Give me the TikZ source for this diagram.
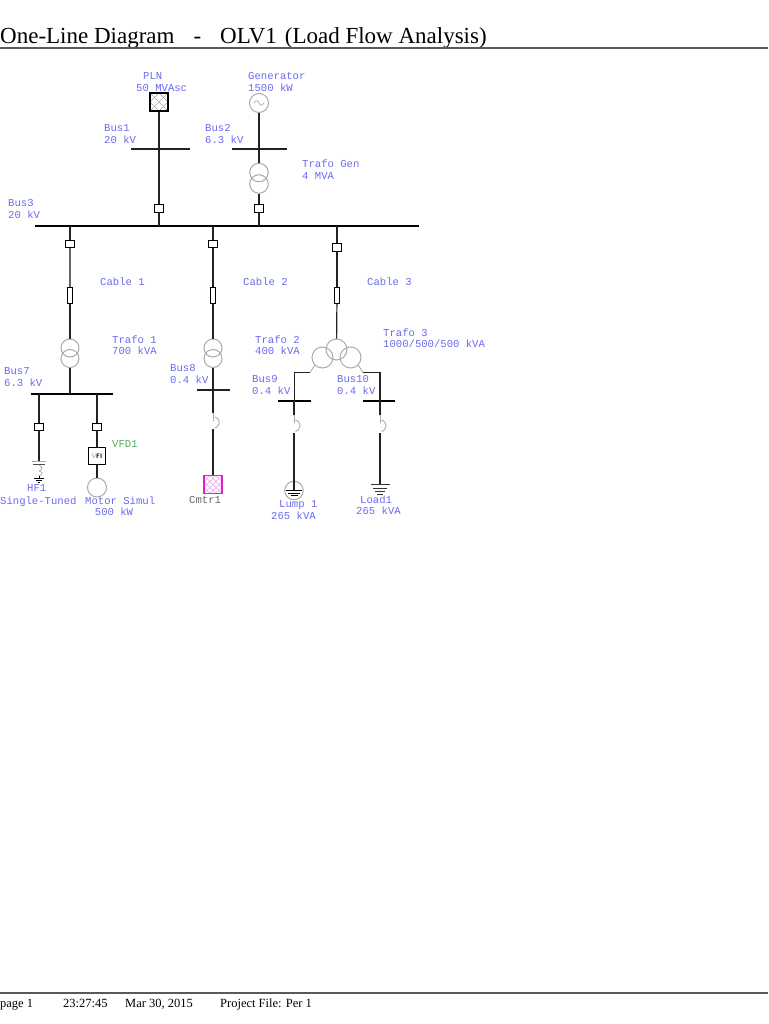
\documentclass[tikz,border=0pt]{standalone}
\usepackage{fontspec}
\setmainfont{Liberation Serif}
\setmonofont{Liberation Mono}
\definecolor{lblblue}{HTML}{6A6AEE}
\definecolor{lblgreen}{HTML}{55AA55}
\definecolor{lblgray}{HTML}{666666}
\definecolor{symgray}{HTML}{AAAAAA}
\definecolor{wire}{HTML}{222222}
\definecolor{pinkish}{HTML}{E020D0}
\tikzset{
  lbl/.style={anchor=north west,inner sep=0pt,yshift=-1.4pt,align=left,text=lblblue,font=\fontsize{10.6}{11.6}\selectfont\ttfamily},
  titletext/.style={anchor=base west,inner sep=0pt,text=black},
  foot/.style={anchor=base west,inner sep=0pt,text=black,font=\fontsize{12.5}{14}\selectfont},
  wirel/.style={draw=wire,line width=1.2pt},
  rule/.style={draw=black!65,line width=1.2pt},
  busthin/.style={draw=none,fill=wire,inner sep=0pt,minimum height=1.3pt},
  busthick/.style={draw=none,fill=black,inner sep=0pt,minimum height=2pt},
  breaker/.style={draw=black,fill=white,line width=0.9pt,inner sep=0pt,minimum width=9pt,minimum height=8pt},
  cablebox/.style={draw=black,fill=white,line width=0.9pt,inner sep=0pt,minimum width=5pt,minimum height=16pt},
  coil/.style={circle,draw=symgray,line width=1pt,inner sep=0pt},
  hatchbox/.style={draw=#1,inner sep=0pt,minimum size=18pt,line width=1.1pt},
  openlink/.style={draw=symgray,line width=0.9pt},
}
\begin{document}
\begin{tikzpicture}[x=1pt,y=-1pt]
\useasboundingbox (0,0) rectangle (768,1024);
% title and footer
\node[titletext,font=\fontsize{23}{26}\selectfont] (title) at (0,44) {One-Line Diagram\hspace{19pt}-\hspace{19pt}OLV1\hspace{8pt}(Load Flow Analysis)};
\coordinate (tl) at (0,48); \coordinate (tr) at (768,48);
\draw[rule] (tl) -- (tr);
\coordinate (fl) at (0,993); \coordinate (fr) at (768,993);
\draw[rule] (fl) -- (fr);
\node[foot] (f1) at (0,1007) {page 1};
\node[foot] (f2) at (63,1007) {23:27:45};
\node[foot] (f3) at (125,1007) {Mar 30, 2015};
\node[foot] (f4) at (220,1007) {Project File: Per 1};
% buses
\node[busthick,minimum width=384pt] (bus3) at (227,226.5) {};
\node[busthin,minimum width=59pt] (bus1) at (160.5,149) {};
\node[busthin,minimum width=55pt] (bus2) at (259.5,149) {};
\node[busthick,minimum width=82pt] (bus7) at (72,394) {};
\node[busthin,minimum width=33pt] (bus8) at (213,390) {};
\node[busthick,minimum width=33pt] (bus9) at (294.5,401) {};
\node[busthick,minimum width=32pt] (bus10) at (379,401) {};
% PLN feeder
\node[hatchbox=black,
  path picture={\foreach \d in {-9,0,9}{
    \draw[symgray,line width=0.7pt] ([shift={(\d-12,-12)}]path picture bounding box.center) -- ++(24,24);
    \draw[symgray,line width=0.7pt] ([shift={(\d+12,-12)}]path picture bounding box.center) -- ++(-24,24);}}
  ] (pln) at (159,102) {};
\node[breaker] (bk1) at (159,208) {};
\draw[wirel] (pln) -- (bk1);
\draw[wirel] (bk1) -- (bk1 |- bus3);
% Generator feeder
\node[coil,minimum size=19pt] (gen) at (259,103) {};
\draw[symgray,line width=0.7pt] (254,103) .. controls (256,100) and (258,100) .. (259,103) .. controls (260,106) and (262,106) .. (264,103);
\node[coil,minimum size=18.5pt] (tg1) at (259,172.5) {};
\node[coil,minimum size=18.5pt] (tg2) at (259,184) {};
\node[breaker] (bk2) at (259,208) {};
\draw[wirel] (gen) -- (tg1);
\draw[wirel] (tg2) -- (bk2);
\draw[wirel] (bk2) -- (bk2 |- bus3);
% Feeder 1
\node[breaker,minimum height=7pt] (bk3) at (70,244) {};
\node[cablebox] (c1) at (70,295.5) {};
\node[coil,minimum size=18pt] (t1a) at (70,348) {};
\node[coil,minimum size=18pt] (t1b) at (70,358.5) {};
\draw[wirel] (bk3 |- bus3) -- (bk3);
\draw[wirel,draw=black!60] (bk3) -- (c1);
\draw[wirel] (c1) -- (t1a);
\draw[wirel] (t1b) -- (t1b |- bus7);
% Feeder 2
\node[breaker,minimum height=7pt] (bk4) at (213,244) {};
\node[cablebox] (c2) at (213,295.5) {};
\node[coil,minimum size=18pt] (t2a) at (213,348) {};
\node[coil,minimum size=18pt] (t2b) at (213,358.5) {};
\draw[wirel] (bk4 |- bus3) -- (bk4);
\draw[wirel] (bk4) -- (c2);
\draw[wirel] (c2) -- (t2a);
\draw[wirel] (t2b) -- (t2b |- bus8);
% Cmtr1
\coordinate (ol8a) at (213,413);
\coordinate (ol8b) at (213,429);
\coordinate (ol8c) at (213,421);
\draw[wirel] (t2b |- bus8) -- (ol8a);
\draw[openlink] (ol8a) -- (ol8c);
\draw[openlink] (215,417) arc (-75:75:5.7);
\node[hatchbox=pinkish,
  path picture={\foreach \d in {-12,-6,0,6,12}{
    \draw[pinkish!45,line width=0.6pt] ([shift={(\d-12,-12)}]path picture bounding box.center) -- ++(24,24);
    \draw[pinkish!45,line width=0.6pt] ([shift={(\d+12,-12)}]path picture bounding box.center) -- ++(-24,24);}}
  ] (cmtr) at (213,484.5) {};
\draw[wirel] (ol8b) -- (cmtr);
% Feeder 3
\node[breaker] (bk5) at (337,247) {};
\node[cablebox] (c3) at (337,295.5) {};
\node[coil,minimum size=21pt] (t3a) at (336.5,349.5) {};
\node[coil,minimum size=21pt] (t3b) at (322.5,357.5) {};
\node[coil,minimum size=21pt] (t3c) at (350.5,357.5) {};
\draw[wirel] (bk5 |- bus3) -- (bk5);
\draw[wirel] (bk5) -- (c3);
\draw[wirel] (c3) -- (t3a);
\coordinate (b9w) at (294.5,372.5);
\coordinate (b10w) at (380,372.5);
\coordinate (b9x) at (310,372.5);
\coordinate (b10x) at (363,372.5);
\draw[openlink] (t3b.south west) -- (b9x);
\draw[openlink] (t3c.south east) -- (b10x);
\draw[wirel] (b9x) -- (b9w) -- (b9w |- bus9);
\draw[wirel] (b10x) -- (b10w) -- (b10w |- bus10);
% Lump 1
\coordinate (ol9a) at (294,415);
\coordinate (ol9b) at (294,432.5);
\coordinate (ol9c) at (294,423);
\draw[wirel] (ol9a |- bus9) -- (ol9a);
\draw[openlink] (ol9a) -- (ol9c);
\draw[openlink] (295.5,420) arc (-75:75:6);
\node[coil,minimum size=18.5pt] (lump) at (294,490.5) {};
\draw[wirel,line width=1.5pt] (ol9b) -- (lump.center);
\foreach \w/\yy in {8/490.5,6/493,3.5/495.5}{\draw[black,line width=0.9pt] (294-\w,\yy) -- (294+\w,\yy);}
% Load1
\coordinate (ol10a) at (380,415);
\coordinate (ol10b) at (380,432.5);
\coordinate (ol10c) at (380,423);
\coordinate (gnd10) at (380,484);
\draw[wirel] (ol10a |- bus10) -- (ol10a);
\draw[openlink] (ol10a) -- (ol10c);
\draw[openlink] (381.5,420) arc (-75:75:6);
\draw[wirel,line width=1.5pt] (ol10b) -- (gnd10);
\foreach \w/\yy in {9.5/484,7/488,5/491,3/494}{\draw[black!80,line width=0.9pt] (380-\w,\yy) -- (380+\w,\yy);}
% HF1
\node[breaker,minimum height=7pt] (bk6) at (39,426.5) {};
\coordinate (hfcap) at (39,461.5);
\draw[wirel] (bk6 |- bus7) -- (bk6);
\draw[wirel] (bk6) -- (hfcap);
\draw[symgray,line width=1pt] (32,461.5) -- (46,461.5);
\draw[black!70,line width=0.7pt] (33,464.5) -- (45,464.5);
\draw[symgray,line width=0.7pt] (39,465) .. controls (43,467) and (43,470) .. (39,471) .. controls (43,472) and (43,475) .. (39,476);
\draw[black,line width=0.8pt] (39,476) -- (39,478) (34,478) -- (44,478) (36,480.5) -- (42,480.5) (38,482.5) -- (40,482.5);
% VFD / motor
\node[breaker,minimum height=7pt] (bk7) at (97,426.5) {};
\node[draw=black,fill=white,line width=1pt,inner sep=0pt,minimum size=17.5pt,font=\fontsize{6.5}{7}\selectfont\sffamily] (vfd) at (97,456) {\textcolor{black!40}{V}\textbf{FI}};
\node[coil,minimum size=19pt] (motor) at (97,487.5) {};
\draw[wirel] (bk7 |- bus7) -- (bk7);
\draw[wirel] (bk7) -- (vfd);
\draw[wirel] (vfd) -- (motor);
% labels
\node[lbl] (lpln) at (143,71) {PLN};
\node[lbl] (lpln2) at (136,82.5) {50 MVAsc};
\node[lbl] (lgen) at (248,71) {Generator\\1500 kW};
\node[lbl] (lb1) at (104,123) {Bus1\\20 kV};
\node[lbl] (lb2) at (205,123) {Bus2\\6.3 kV};
\node[lbl] (ltg) at (302,158.5) {Trafo Gen\\4 MVA};
\node[lbl] (lb3) at (8,198) {Bus3\\20 kV};
\node[lbl] (lc1) at (100,276) {Cable 1};
\node[lbl] (lc2) at (243,276) {Cable 2};
\node[lbl] (lc3) at (367,276) {Cable 3};
\node[lbl] (lt1) at (112,334) {Trafo 1\\700 kVA};
\node[lbl] (lt2) at (255,334) {Trafo 2\\400 kVA};
\node[lbl] (lt3) at (383,327) {Trafo 3\\1000/500/500 kVA};
\node[lbl] (lb7) at (4,366) {Bus7\\6.3 kV};
\node[lbl] (lb8) at (170,363) {Bus8\\0.4 kV};
\node[lbl] (lb9) at (252,374) {Bus9\\0.4 kV};
\node[lbl] (lb10) at (337,374) {Bus10\\0.4 kV};
\node[lbl,text=lblgreen] (lvfd) at (112,439) {VFD1};
\node[lbl] (lhf) at (27,483) {HF1};
\node[lbl] (lst) at (0,495) {Single-Tuned};
\node[lbl] (lm) at (85,495) {Motor Simul};
\node[lbl] (lm2) at (82,506.5) {\ \ 500 kW};
\node[lbl,text=lblgray] (lcm) at (189,495) {Cmtr1};
\node[lbl] (ll1) at (279,499) {Lump 1};
\node[lbl] (ll2) at (271,510) {265 kVA};
\node[lbl] (ld1) at (360,494) {Load1};
\node[lbl] (ld2) at (356,505.5) {265 kVA};
\end{tikzpicture}
\end{document}
